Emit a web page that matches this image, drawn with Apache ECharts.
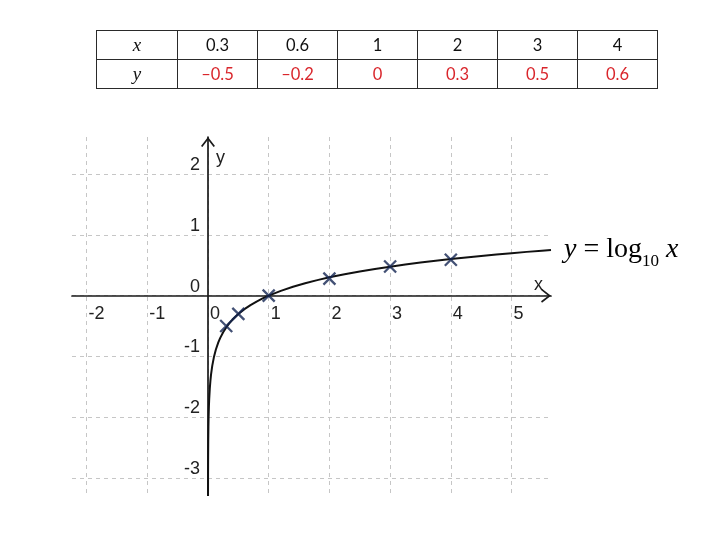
<!DOCTYPE html>
<html>
<head>
<meta charset="utf-8">
<script src="https://cdn.jsdelivr.net/npm/echarts@6/dist/echarts.min.js"></script>
<style>
  html, body { margin: 0; padding: 0; background: #fff; }
  #chart { position: absolute; left: 0; top: 0; width: 728px; height: 546px; }
  #tbl { position: absolute; left: 96px; top: 30px; border-collapse: collapse; z-index: 2; }
  #tbl td { border: 1px solid #2a2a2a; width: 79px; height: 28px; padding: 0; text-align: center;
            font-family: Lato, "Open Sans", sans-serif; font-size: 16.5px; color: #111; }
  #tbl td.h { font-family: "Liberation Serif", serif; font-style: italic; font-size: 19px; width: 80px; }
  #tbl td.r { color: #d9262c; }
</style>
</head>
<body>
<div id="chart"></div>
<table id="tbl"></table>
<script>
// ---- data ----
const tableX = ['0.3', '0.6', '1', '2', '3', '4'];
const tableY = ['\u20130.5', '\u20130.2', '0', '0.3', '0.5', '0.6'];

// points
const curveX = [0.0005, 0.001, 0.002, 0.004, 0.007, 0.01, 0.015, 0.02, 0.03, 0.04, 0.05, 0.07, 0.1, 0.13, 0.17, 0.2, 0.25, 0.3, 0.35, 0.4, 0.5, 0.6, 0.7, 0.8, 0.9, 1, 1.2, 1.4, 1.6, 1.8, 2, 2.25, 2.5, 2.75, 3, 3.25, 3.5, 3.75, 4, 4.25, 4.5, 4.75, 5, 5.25, 5.5, 5.65];
const curveY = [-3.301, -3, -2.699, -2.398, -2.155, -2, -1.824, -1.699, -1.523, -1.398, -1.301, -1.155, -1, -0.886, -0.77, -0.699, -0.602, -0.523, -0.456, -0.398, -0.301, -0.222, -0.155, -0.097, -0.046, 0, 0.079, 0.146, 0.204, 0.255, 0.301, 0.352, 0.398, 0.439, 0.477, 0.512, 0.544, 0.574, 0.602, 0.628, 0.653, 0.677, 0.699, 0.72, 0.74, 0.752];

// plotted crosses
const markerX = [0.3, 0.5, 1, 2, 3, 4];
const markerY = [-0.5, -0.3, 0, 0.28, 0.48, 0.59];

const xRange = [-2.24, 5.65];
const yRange = [-3.28, 2.61];

// ---- table ----
const tbl = document.getElementById('tbl');
function addRow(head, vals, cls) {
  const tr = document.createElement('tr');
  const th = document.createElement('td');
  th.className = 'h'; th.textContent = head; tr.appendChild(th);
  vals.forEach(v => { const td = document.createElement('td'); if (cls) td.className = cls; td.textContent = v; tr.appendChild(td); });
  tbl.appendChild(tr);
}
addRow('x', tableX, '');
addRow('y', tableY, 'r');

// ---- chart ----
const chart = echarts.init(document.getElementById('chart'), null, { renderer: 'canvas' });
const chevron = 'path://M0,9 L7,0 L14,9 L12.6,10 L7,2.8 L1.4,10 Z';
const crossPath = 'path://M0,0 L10,10 M10,0 L0,10';
const isInt = v => Math.abs(v - Math.round(v)) < 1e-6;
const labelFont = { fontFamily: '"Liberation Sans", Arial, sans-serif', fontSize: 18, color: '#222' };
const gridLine = { show: true, showMinLine: false, showMaxLine: false, lineStyle: { color: '#c6c6c6', type: [4, 4], width: 1 } };

const option = {
  animation: false,
  backgroundColor: '#fff',
  grid: { left: 72, right: 177, top: 137, bottom: 51, containLabel: false },
  xAxis: {
    type: 'value', min: xRange[0], max: xRange[1], splitNumber: 8, minInterval: 1, maxInterval: 1,
    axisLine: { onZero: false, lineStyle: { color: '#1a1a1a', width: 1.7 }, symbol: ['none', chevron], symbolSize: [14, 10], symbolOffset: [0, -5] },
    axisTick: { show: false },
    splitLine: gridLine,
    axisLabel: Object.assign({ showMinLabel: false, showMaxLabel: false, align: 'left', margin: 9, padding: [0, 0, 0, 2],
      formatter: v => isInt(v) ? String(Math.round(v)) : '' }, labelFont),
    name: 'x', nameLocation: 'end', nameGap: -8,
    nameTextStyle: Object.assign({ align: 'right', verticalAlign: 'bottom', padding: [0, 0, 2, 0] }, labelFont)
  },
  yAxis: {
    type: 'value', min: yRange[0], max: yRange[1], splitNumber: 6, minInterval: 1, maxInterval: 1,
    axisLine: { onZero: false, lineStyle: { color: '#1a1a1a', width: 1.7 }, symbol: ['none', chevron], symbolSize: [14, 10], symbolOffset: [0, -5] },
    axisTick: { show: false },
    splitLine: gridLine,
    axisLabel: Object.assign({ showMinLabel: false, showMaxLabel: false, align: 'right', verticalAlign: 'bottom', margin: 8,
      formatter: v => isInt(v) ? String(Math.round(v)) : '' }, labelFont),
    name: 'y', nameLocation: 'end', nameGap: -12,
    nameTextStyle: Object.assign({ align: 'left', verticalAlign: 'top', padding: [0, 0, 0, 8] }, labelFont)
  },
  series: [
    {
      type: 'line', data: curveX.map((x, i) => [x, curveY[i]]), smooth: false,
      showSymbol: false, clip: true, lineStyle: { color: '#111', width: 2 }, z: 3,
      endLabel: {
        show: true, distance: 13, color: '#000',
        fontFamily: '"Liberation Serif", "Times New Roman", serif', fontSize: 28, lineHeight: 34,
        formatter: '{i|y} = log{s|10} {i|x}',
        rich: {
          i: { fontFamily: '"Liberation Serif", serif', fontStyle: 'italic', fontSize: 28, lineHeight: 34, color: '#000' },
          s: { fontFamily: '"Liberation Serif", serif', fontSize: 17, lineHeight: 20, padding: [20, 0, 0, 0], verticalAlign: 'top', color: '#000' }
        }
      }
    },
    {
      type: 'scatter', data: markerX.map((x, i) => [x, markerY[i]]), symbol: crossPath, symbolSize: 12, z: 4,
      itemStyle: { color: 'none', borderColor: '#142552', borderWidth: 2.3 }
    }
  ]
};
chart.setOption(option);

// move both axes (with their labels) onto the zero lines, using the library's own scales
const p0 = chart.convertToPixel({ xAxisIndex: 0, yAxisIndex: 0 }, [0, 0]);
const pMin = chart.convertToPixel({ xAxisIndex: 0, yAxisIndex: 0 }, [xRange[0], yRange[0]]);
chart.setOption({
  xAxis: { offset: p0[1] - pMin[1] },
  yAxis: { offset: pMin[0] - p0[0] }
});
</script>
</body>
</html>
